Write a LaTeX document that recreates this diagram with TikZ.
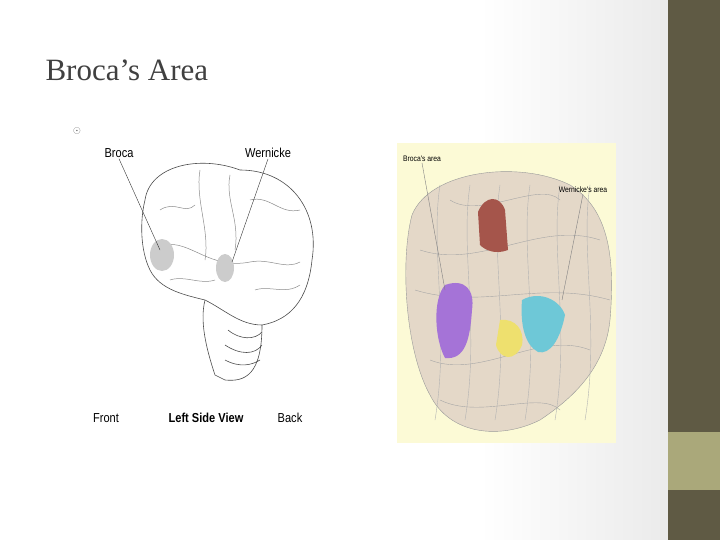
\documentclass[tikz,border=0pt]{standalone}
\usepackage{fontspec}
\setmainfont{Liberation Serif}
\newfontfamily\arial{Liberation Sans}
\begin{document}
\begin{tikzpicture}[x=1pt,y=-1pt,
  lbl/.style={font=\arial\fontsize{13}{15}\selectfont, inner sep=1pt, xscale=0.85},
  tiny/.style={font=\arial\fontsize{8}{9}\selectfont, inner sep=1pt, xscale=0.85},
  gyr/.style={draw=black!70, line width=0.6pt},
  gyr2/.style={draw=black!45, line width=0.5pt}]
\useasboundingbox (0,0) rectangle (720,540);
\shade[left color=white, right color=white] (0,0) rectangle (480,540);
\shade[left color=white, right color=black!8] (480,0) rectangle (668,540);
\fill[fill={rgb,255:red,95;green,90;blue,68}] (668,0) rectangle (720,540);
\fill[fill={rgb,255:red,170;green,168;blue,122}] (668,432) rectangle (720,490);
\node[anchor=west, font=\fontsize{31}{34}\selectfont, text=black!75] (title) at (42,70) {Broca’s Area};
\node[font=\normalsize, text=black!70] (bul) at (77,131) {$\odot$};
% left brain
\fill[white] (88,138) rectangle (320,432);
\node[lbl] (broca) at (119,153) {Broca};
\node[lbl] (wern) at (268,153) {Wernicke};
\draw[gyr] (145,200) .. controls (150,165) and (200,155) .. (240,170) .. controls (290,170) and (320,210) .. (312,260)
 .. controls (308,300) and (290,320) .. (262,325) .. controls (240,325) and (225,310) .. (205,300)
 .. controls (185,295) and (160,290) .. (150,270) .. controls (140,250) and (140,220) .. (145,200) -- cycle;
\draw[gyr] (205,300) .. controls (200,320) and (205,345) .. (215,375) -- (225,380) .. controls (245,382) and (262,375) .. (262,325);
\draw[gyr] (228,330) .. controls (240,340) and (255,340) .. (262,332);
\draw[gyr] (225,345) .. controls (240,355) and (255,355) .. (262,345);
\draw[gyr] (225,360) .. controls (240,368) and (252,365) .. (260,360);
\draw[gyr2] (165,245) .. controls (190,240) and (210,270) .. (250,262) .. controls (270,258) and (285,270) .. (300,262);
\draw[gyr2] (200,170) .. controls (195,200) and (210,230) .. (205,260);
\draw[gyr2] (230,175) .. controls (225,200) and (240,220) .. (235,250);
\draw[gyr2] (160,210) .. controls (175,200) and (185,215) .. (195,205);
\draw[gyr2] (250,200) .. controls (270,195) and (280,215) .. (300,210);
\draw[gyr2] (255,290) .. controls (270,285) and (285,295) .. (300,285);
\draw[gyr2] (170,280) .. controls (185,275) and (200,285) .. (215,280);
\fill[black!20] (162,255) ellipse (12 and 16);
\fill[black!20] (225,268) ellipse (9 and 14);
\coordinate (bs) at (160,250);
\coordinate (ws) at (232,262);
\draw[black!80] (broca.south) -- (bs);
\draw[black!80] (wern.south) -- (ws);
\node[lbl] (front) at (106,418) {Front};
\node[lbl, font=\arial\fontsize{13}{15}\selectfont\bfseries] (lsv) at (206,418) {Left Side View};
\node[lbl] (back) at (290,418) {Back};
% right brain
\fill[fill={rgb,255:red,252;green,250;blue,214}] (397,143) rectangle (616,443);
\fill[fill={rgb,255:red,228;green,216;blue,200}, draw=black!40] (412,215) .. controls (430,170) and (520,160) .. (570,185)
 .. controls (610,210) and (615,260) .. (610,320) .. controls (605,370) and (570,400) .. (540,420)
 .. controls (500,440) and (450,435) .. (430,395) .. controls (405,350) and (400,260) .. (412,215) -- cycle;
\foreach \a/\b/\c/\d in {420/250/600/240, 415/290/610/300, 430/360/590/350, 440/400/560/410, 450/200/560/200}
  \draw[black!35] (\a,\b) .. controls (480,\b+20) and (540,\d-20) .. (\c,\d);
\foreach \x in {440,470,500,530,560,590}
  \draw[black!30] (\x,185) .. controls (\x-10,250) and (\x+10,330) .. (\x-5,420);
\fill[fill={rgb,255:red,165;green,85;blue,75}] (478,212) .. controls (485,195) and (500,195) .. (505,210) -- (508,250) .. controls (495,255) and (485,250) .. (480,245) -- cycle;
\fill[fill={rgb,255:red,165;green,115;blue,215}] (445,285) .. controls (465,278) and (475,290) .. (472,310) .. controls (470,340) and (465,360) .. (445,358) .. controls (435,340) and (432,300) .. (445,285) -- cycle;
\fill[fill={rgb,255:red,238;green,224;blue,110}] (500,320) .. controls (515,318) and (525,330) .. (522,345) .. controls (515,362) and (500,360) .. (496,345) -- cycle;
\fill[fill={rgb,255:red,110;green,200;blue,215}] (522,300) .. controls (540,290) and (560,300) .. (565,315) .. controls (560,340) and (550,355) .. (538,352) .. controls (525,345) and (520,325) .. (522,300) -- cycle;
\node[tiny] (ba) at (422,159) {Broca's area};
\node[tiny] (wa) at (583,190) {Wernicke's area};
\coordinate (bap) at (445,290);
\coordinate (wap) at (562,300);
\draw[black!50] (ba.south) -- (bap);
\draw[black!50] (wa.south) -- (wap);
\end{tikzpicture}
\end{document}
